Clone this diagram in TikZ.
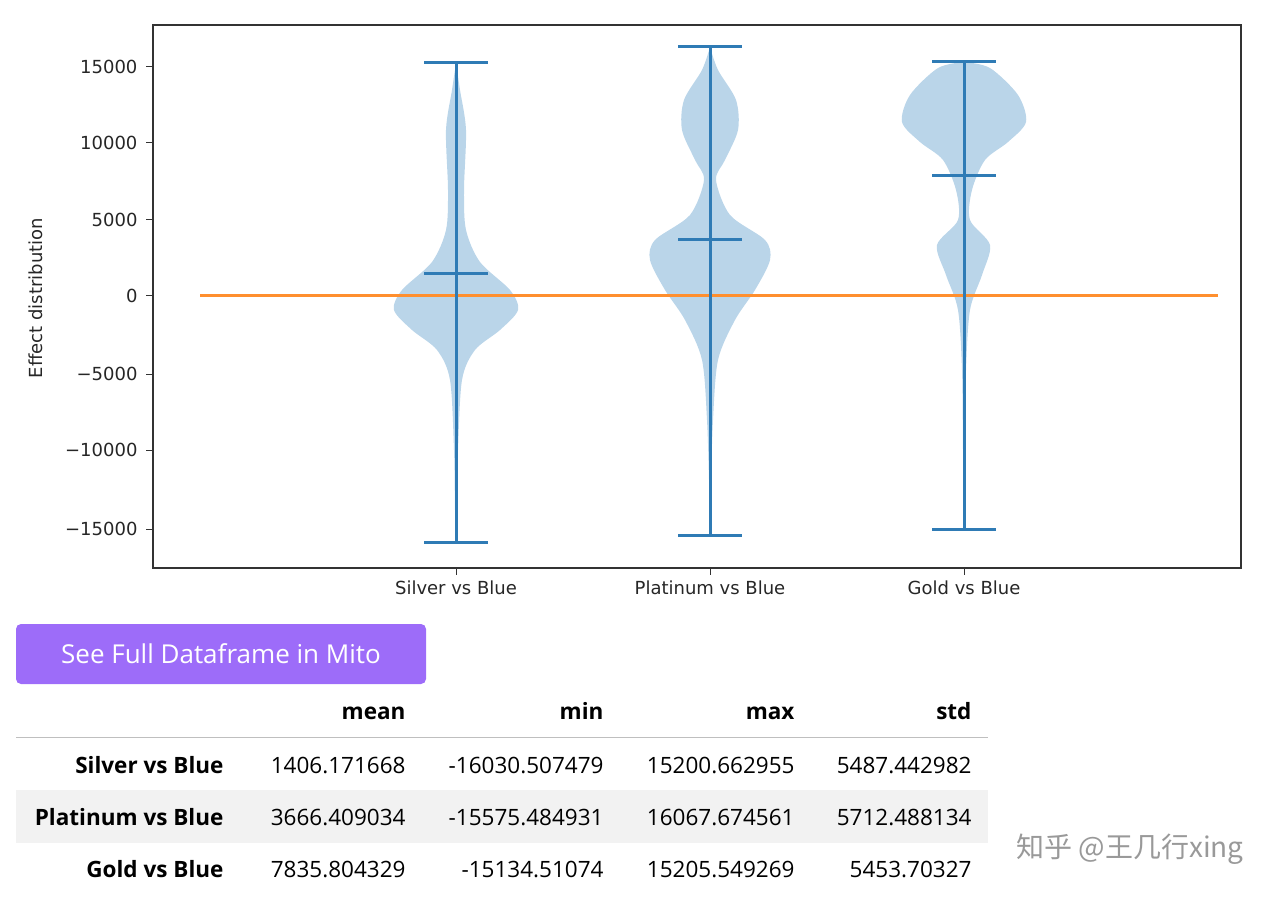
\documentclass[tikz,border=0pt]{standalone}
\usepackage{fontspec}
\setmainfont{DejaVu Sans}
\newfontfamily\tbl{Open Sans}
\newfontfamily\cjk{Noto Sans CJK SC}
\definecolor{vblue}{HTML}{2F7BB5}
\definecolor{vfill}{HTML}{BAD5E9}
\definecolor{vorange}{HTML}{FF8F2E}
\definecolor{mito}{HTML}{9D6CF9}
\tikzset{vline/.style={draw=vblue,line width=3pt},
 vio/.style={fill=vfill,draw=none},
 tick/.style={anchor=east,font=\fontsize{18}{18}\selectfont,text=black!85},
 xlab/.style={anchor=north,font=\fontsize{18}{18}\selectfont,text=black!85},
 th/.style={anchor=base east,font=\tbl\bfseries\fontsize{22.5}{22.5}\selectfont},
 td/.style={anchor=base east,font=\tbl\fontsize{22.5}{22.5}\selectfont}}
\begin{document}
\begin{tikzpicture}[x=1pt,y=-1pt]
\useasboundingbox (0,0) rectangle (1278,904);
% violins
\fill[vio] plot[smooth] coordinates {(456,63)(460,90)(466,130)(464,190)(466,230)(480,262)(510,290)(518,310)(500,330)(475,350)(462,380)(458,450)(457,510)(456,542)(455,510)(454,450)(450,380)(437,350)(412,330)(394,310)(402,290)(432,262)(446,230)(448,190)(446,130)(452,90)(456,63)};
\fill[vio] plot[smooth] coordinates {(710,47)(718,70)(736,100)(738,130)(725,160)(716,180)(730,215)(765,240)(770,260)(755,290)(735,320)(718,360)(713,420)(711,480)(710,535)(709,480)(707,420)(702,360)(685,320)(665,290)(650,260)(655,240)(690,215)(704,180)(695,160)(682,130)(684,100)(702,70)(710,47)};
\fill[vio] plot[smooth] coordinates {(964,62)(990,68)(1018,95)(1026,122)(1008,142)(985,160)(972,190)(970,220)(990,245)(982,275)(970,310)(966,370)(965,450)(964,529)(963,450)(962,370)(958,310)(946,275)(937,245)(958,220)(956,190)(943,160)(920,142)(902,122)(910,95)(938,68)(964,62)};
% frame
\draw[black!80,line width=1.2pt] (153,25) rectangle (1241,568);
\coordinate (o1) at (200,296); \coordinate (o2) at (1218,296);
\draw[vorange,line width=3pt] (o1) -- (o2);
% whiskers
\foreach \c/\t/\b/\m in {456/63/542/274, 710/47/535/240, 964/62/529/176}{
 \draw[vline] (\c,\t) -- (\c,\b);
 \draw[vline] (\c-32,\t) -- (\c+32,\t);
 \draw[vline] (\c-32,\b) -- (\c+32,\b);
 \draw[vline] (\c-32,\m) -- (\c+32,\m);
}
% ticks
\foreach \v/\yy in {15000/67,10000/143,5000/220,0/296,-5000/374,-10000/450,-15000/529}{
 \draw[black!80,line width=1pt] (146,\yy) -- (153,\yy);
 \node[tick] (t\yy) at (141,\yy) {\ifnum\v<0 −\number-\v\else\v\fi};
}
\foreach \xx/\l in {456/Silver vs Blue,710/Platinum vs Blue,964/Gold vs Blue}{
 \draw[black!80,line width=1pt] (\xx,568) -- (\xx,575);
 \node[xlab] (x\xx) at (\xx,577) {\l};
}
\node[rotate=90,font=\fontsize{18}{18}\selectfont,text=black!85] (yl) at (36,298) {Effect distribution};
% button
\node[fill=mito,rounded corners=5pt,minimum width=410pt,minimum height=60pt,text=white,font=\tbl\fontsize{26}{26}\selectfont] (btn) at (221,654) {See Full Dataframe in Mito};
% table
\fill[black!5] (16,790) rectangle (988,843);
\draw[black!25,line width=1pt] (16,737) -- (988,737);
\node[th] (hm) at (409,719) {mean};
\node[th] (hn) at (607,719) {min};
\node[th] (hx) at (798,719) {max};
\node[th] (hs) at (975,719) {std};
\node[th] (r1) at (227,773) {Silver vs Blue};
\node[th] (r2) at (227,825) {Platinum vs Blue};
\node[th] (r3) at (227,877) {Gold vs Blue};
\node[td] at (409,773) {1406.171668};
\node[td] at (607,773) {-16030.507479};
\node[td] at (798,773) {15200.662955};
\node[td] at (975,773) {5487.442982};
\node[td] at (409,825) {3666.409034};
\node[td] at (607,825) {-15575.484931};
\node[td] at (798,825) {16067.674561};
\node[td] at (975,825) {5712.488134};
\node[td] at (409,877) {7835.804329};
\node[td] at (607,877) {-15134.51074};
\node[td] at (798,877) {15205.549269};
\node[td] at (975,877) {5453.70327};
\node[text=black!40,font=\cjk\fontsize{28}{28}\selectfont] (wm) at (1130,849) {知乎 @王几行xing};
\end{tikzpicture}
\end{document}
